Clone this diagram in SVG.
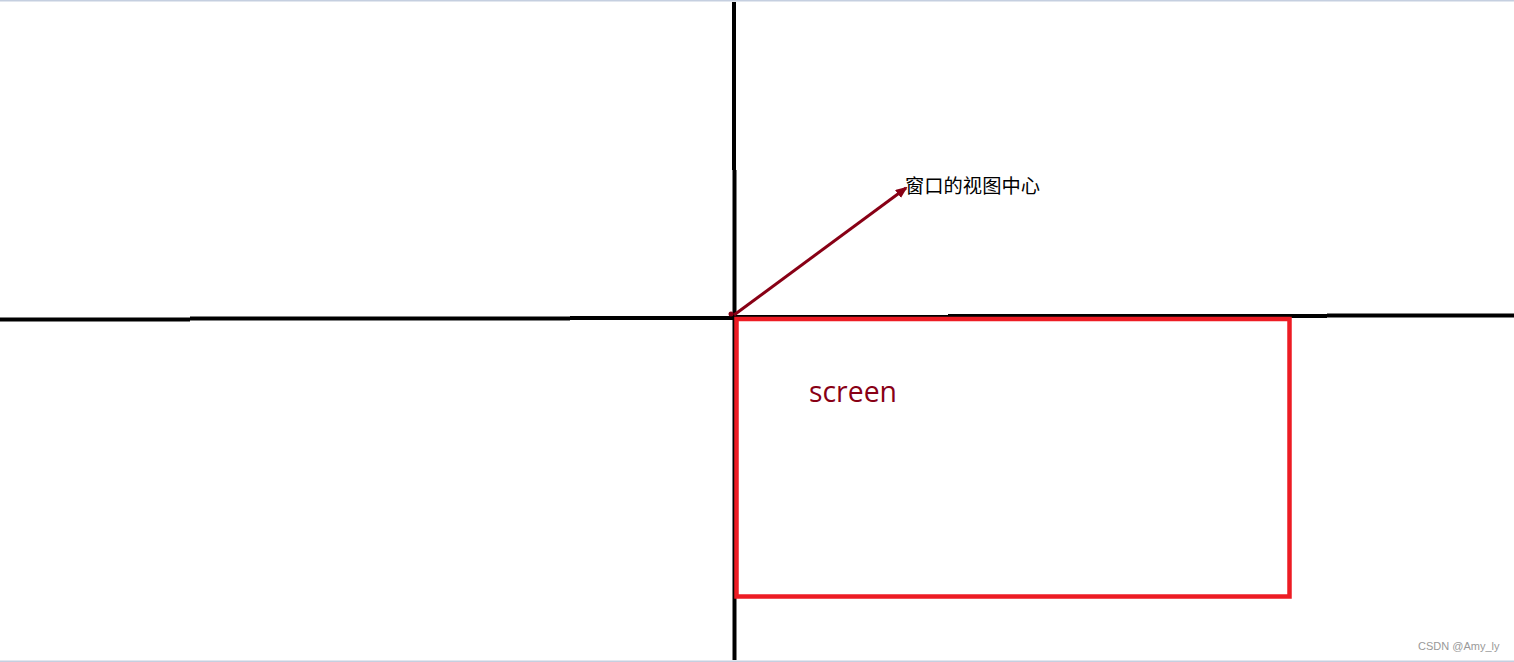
<svg xmlns="http://www.w3.org/2000/svg" width="1514" height="662" viewBox="0 0 1514 662">
<style>
.axis{stroke:#000;stroke-width:4;fill:none}
.frame{stroke:#c5cfe0;stroke-width:2}
</style>
<defs>
<marker id="ah2" markerWidth="12" markerHeight="10" refX="10" refY="5" orient="auto" markerUnits="userSpaceOnUse">
<path d="M0,0 L12,5 L0,10 Z" fill="#880015"/>
</marker>
</defs>
<rect width="1514" height="662" fill="#fff"/>
<line class="frame" x1="0" y1="0.5" x2="1514" y2="0.5"/>
<line class="frame" x1="0" y1="661.5" x2="1514" y2="661.5"/>
<g id="connectors">
<path class="axis" d="M0,319.5 H190 M190,318.5 H570 M570,318 H735 M735,317 H948 M948,316 H1327 M1327,315.5 H1514"/>
<path class="axis" d="M734,2 V170 M734.5,170 V495 M734.5,495 V660"/>
<circle cx="731" cy="314" r="2.5" fill="#880015"/>
<line x1="734" y1="315" x2="906" y2="188" stroke="#880015" stroke-width="3" marker-end="url(#ah2)"/>
</g>
<g id="screen">
<rect x="736.5" y="319" width="553" height="277.5" fill="none" stroke="#ed1c24" stroke-width="4.5"/>
<text x="809" y="402" font-family="'Open Sans', sans-serif" font-size="29" fill="#880015" textLength="88" lengthAdjust="spacingAndGlyphs">screen</text>
</g>
<g id="label">
<text x="905" y="193" font-family="'Noto Sans CJK SC', sans-serif" font-size="19" fill="#000" textLength="135" lengthAdjust="spacingAndGlyphs">窗口的视图中心</text>
</g>
<text x="1418" y="650" font-family="'Liberation Sans', sans-serif" font-size="11" fill="#999">CSDN @Amy_ly</text>
</svg>
